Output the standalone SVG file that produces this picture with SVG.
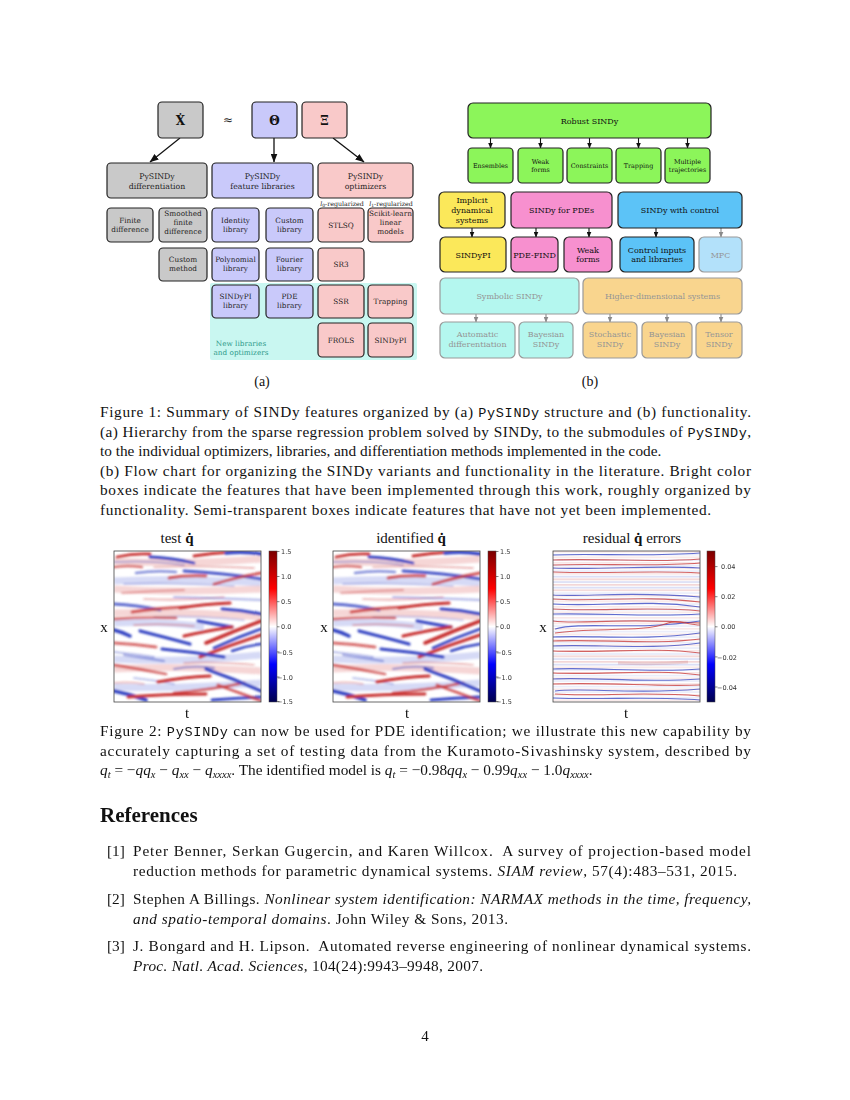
<svg xmlns="http://www.w3.org/2000/svg" width="850" height="1100" viewBox="0 0 850 1100">
<style>
.bx{stroke:#222;stroke-width:1.2}
.bs{stroke:#999;stroke-width:1.2}
.gy{fill:#c9c9c9}.lv{fill:#c9c9fa}.pk{fill:#f9c9c9}
.gr{fill:#8cf55a}.ye{fill:#fbe85a}.mg{fill:#f790cf}.bl{fill:#5cc3f7}
.lb{fill:#b3e1fa}.cy{fill:#b4f7ef}.or{fill:#f9d58e}
.ta{font-family:"DejaVu Serif",serif;font-size:7.3px;fill:#1e1e1e;text-anchor:middle}
.th{font-family:"DejaVu Serif",serif;font-size:7.8px;fill:#1e1e1e;text-anchor:middle}
.tb{font-family:"DejaVu Serif",serif;font-size:8px;fill:#111;text-anchor:middle}
.ts{font-family:"DejaVu Serif",serif;font-size:6.4px;fill:#111;text-anchor:middle}
.tg{font-family:"DejaVu Serif",serif;font-size:8px;fill:#959595;text-anchor:middle}
.big{font-family:"DejaVu Serif",serif;font-size:12px;font-weight:bold;fill:#111;text-anchor:middle}
.body{font-family:"Liberation Serif",serif;font-size:15.3px;fill:#111}
.mono{font-family:"Liberation Mono",monospace;font-size:13.5px}
.it{font-style:italic}
.sub{font-size:10.5px}
.tick{font-family:"DejaVu Sans",sans-serif;font-size:6.5px;fill:#333}
.ax{font-family:"Liberation Serif",serif;font-size:15px;fill:#111;text-anchor:middle}
.ar{stroke:#111;stroke-width:1.3;fill:none}
.as{stroke:#111;stroke-width:1.1;fill:none}
.ag{stroke:#8a8a8a;stroke-width:1.1;fill:none}
.r{stroke:#c83030;fill:none;stroke-linecap:round}
.b{stroke:#3343c2;fill:none;stroke-linecap:round}
.rf{stroke:#eeb4b4;fill:none;stroke-width:7;opacity:.55}
.bf{stroke:#b4bcee;fill:none;stroke-width:7;opacity:.55}
.r3{stroke:#c43030;fill:none;stroke-width:1.1;opacity:.75}
.b3{stroke:#3040c0;fill:none;stroke-width:1.1;opacity:.75}
.frame{fill:none;stroke:#444;stroke-width:0.8}
</style>
<defs>
<marker id="ah" markerWidth="9" markerHeight="7" refX="8.5" refY="3.5" orient="auto" markerUnits="userSpaceOnUse"><path d="M0,0 L9,3.5 L0,7 z" fill="#111"/></marker>
<marker id="ahs" markerWidth="6" markerHeight="5" refX="5.5" refY="2.5" orient="auto" markerUnits="userSpaceOnUse"><path d="M0,0 L6,2.5 L0,5 z" fill="#111"/></marker>
<marker id="ahg" markerWidth="6" markerHeight="5" refX="5.5" refY="2.5" orient="auto" markerUnits="userSpaceOnUse"><path d="M0,0 L6,2.5 L0,5 z" fill="#8a8a8a"/></marker>
<linearGradient id="seis" x1="0" y1="0" x2="0" y2="1">
<stop offset="0" stop-color="#7a0000"/><stop offset="0.25" stop-color="#ff0000"/><stop offset="0.5" stop-color="#ffffff"/><stop offset="0.75" stop-color="#0000ff"/><stop offset="1" stop-color="#00004d"/>
</linearGradient>
<clipPath id="clip1"><rect x="0" y="0" width="147" height="151"/></clipPath>
<filter id="soft" x="-5%" y="-5%" width="110%" height="110%"><feGaussianBlur stdDeviation="1.2"/></filter>
<filter id="soft2" x="-5%" y="-5%" width="110%" height="110%"><feGaussianBlur stdDeviation="0.45"/></filter>
<pattern id="stripes" patternUnits="userSpaceOnUse" width="10" height="5.5">
<rect x="0" y="0" width="10" height="1.6" fill="#e9b8b8" opacity="0.6"/>
<rect x="0" y="2.8" width="10" height="1.6" fill="#bcc3ec" opacity="0.6"/>
</pattern>
<g id="ks">
<g clip-path="url(#clip1)">
<rect x="0" y="0" width="147" height="151" fill="#fff"/>
<g filter="url(#soft)">
<path class="rf" d="M0,10 Q70,14 147,8"/>
<path class="bf" d="M0,30 Q70,26 147,32"/>
<path class="rf" d="M0,38 Q60,42 147,38" opacity=".3"/>
<path class="rf" d="M0,62 Q70,60 147,66"/>
<path class="bf" d="M0,72 Q50,70 90,76"/>
<path class="bf" d="M0,108 Q70,112 147,104"/>
<path class="rf" d="M0,118 Q60,114 147,120"/>
<path class="bf" d="M0,136 Q70,138 147,132"/>
<path class="b" stroke-width="1.6" opacity=".45" d="M0,11 Q40,9 70,14"/>
<path class="r" stroke-width="1.6" opacity=".45" d="M40,16 Q90,14 140,17"/>
<path class="b" stroke-width="1.6" opacity=".4" d="M10,33 Q60,31 120,35"/>
<path class="r" stroke-width="1.6" opacity=".4" d="M30,48 Q70,50 110,46"/>
<path class="b" stroke-width="1.6" opacity=".4" d="M40,66 Q80,64 130,69"/>
<path class="r" stroke-width="1.6" opacity=".45" d="M20,74 Q50,72 80,75"/>
<path class="b" stroke-width="1.6" opacity=".45" d="M0,101 Q20,103 40,106"/>
<path class="r" stroke-width="1.6" opacity=".4" d="M70,112 Q100,110 140,114"/>
<path class="b" stroke-width="1.6" opacity=".4" d="M20,127 Q40,129 60,133"/>
<path class="r" stroke-width="1.6" opacity=".4" d="M0,132 Q15,131 30,133"/>
<path class="r" stroke-width="2.8" d="M3,6 Q20,2 36,3"/>
<path class="b" stroke-width="2.8" d="M36,6 Q58,7 80,12"/>
<path class="r" stroke-width="2.8" d="M80,5 Q98,2 118,1"/>
<path class="b" stroke-width="3.5" d="M112,2 Q130,0 147,3"/>
<path class="r" stroke-width="2.4" opacity=".7" d="M0,16 Q14,14 28,16"/>
<path class="b" stroke-width="2.4" opacity=".6" d="M22,22 Q42,19 62,21"/>
<path class="r" stroke-width="2.8" opacity=".8" d="M55,27 Q72,24 92,25"/>
<path class="b" stroke-width="2.8" opacity=".9" d="M70,20 Q110,22 147,28"/>
<path class="r" stroke-width="2.8" opacity=".8" d="M100,33 Q125,26 147,22"/>
<path class="r" stroke-width="2" opacity=".4" d="M8,42 Q38,40 70,39"/>
<path class="b" stroke-width="2" opacity=".4" d="M60,46 Q100,47 147,49"/>
<path class="b" stroke-width="2.8" opacity=".8" d="M0,53 Q22,54 46,59"/>
<path class="r" stroke-width="2.8" opacity=".8" d="M18,61 Q44,57 72,56"/>
<path class="r" stroke-width="3.2" d="M66,57 Q90,53 116,52"/>
<path class="b" stroke-width="3.2" d="M108,58 Q128,59 147,63"/>
<path class="r" stroke-width="2.8" opacity=".7" d="M0,68 Q30,66 62,67"/>
<path class="b" stroke-width="3.6" d="M0,79 Q8,81 16,85"/>
<path class="b" stroke-width="3.2" d="M26,80 Q50,86 76,93"/>
<path class="b" stroke-width="3.2" d="M84,70 Q100,73 118,76"/>
<path class="r" stroke-width="3.2" d="M70,85 Q92,80 118,76"/>
<path class="r" stroke-width="3.6" d="M92,92 Q120,80 147,70"/>
<path class="b" stroke-width="2.8" d="M100,97 Q124,86 147,78"/>
<path class="r" stroke-width="3.2" d="M86,106 Q116,94 147,84"/>
<path class="b" stroke-width="3.2" d="M48,98 Q80,101 110,106"/>
<path class="r" stroke-width="2.8" opacity=".7" d="M0,92 Q20,93 42,96"/>
<path class="b" stroke-width="2.4" d="M118,100 Q132,95 147,93"/>
<path class="r" stroke-width="2.8" opacity=".7" d="M0,114 Q26,118 52,123"/>
<path class="b" stroke-width="2" opacity=".5" d="M10,104 Q30,107 50,110"/>
<path class="r" stroke-width="3.2" d="M44,131 Q70,126 96,125"/>
<path class="r" stroke-width="2.8" opacity=".8" d="M60,142 Q100,138 130,132"/>
<path class="b" stroke-width="3.2" d="M92,118 Q120,128 147,140"/>
<path class="b" stroke-width="3.6" d="M0,140 Q16,143 32,149"/>
<path class="r" stroke-width="2.8" d="M14,146 Q50,143 92,143"/>
<path class="b" stroke-width="2.8" d="M98,149 Q122,147 147,146"/>
<path class="r" stroke-width="2.8" opacity=".8" d="M104,134 Q126,142 147,150"/>
<path class="b" stroke-width="2" opacity=".5" d="M60,118 Q80,114 100,117"/>
</g>
</g>
<rect class="frame" x="0" y="0" width="147" height="151"/>
</g>
</defs>

<rect x="0" y="0" width="850" height="1100" fill="#fff"/>

<!-- ===== Figure 1 (a) ===== -->
<rect x="210" y="283" width="207" height="77" fill="#c9f7f1" rx="2"/>
<text x="241" y="346" font-family="DejaVu Serif,serif" font-size="7.3" fill="#2f9a8a" text-anchor="middle">New libraries</text>
<text x="241" y="355" font-family="DejaVu Serif,serif" font-size="7.3" fill="#2f9a8a" text-anchor="middle">and optimizers</text>

<g id="connectors-a">
<line class="ar" x1="180" y1="138" x2="150" y2="162" marker-end="url(#ah)"/>
<line class="ar" x1="274" y1="138" x2="274" y2="162" marker-end="url(#ah)"/>
<line class="ar" x1="333" y1="138" x2="364" y2="162" marker-end="url(#ah)"/>
</g>

<g id="n-xdot"><rect class="bx gy" x="158" y="102" width="45" height="36" rx="4"/><text class="big" x="180.5" y="125">Ẋ</text></g>
<text x="228" y="124" font-family="DejaVu Serif,serif" font-size="12" fill="#222" text-anchor="middle">≈</text>
<g id="n-theta"><rect class="bx lv" x="252" y="102" width="45" height="36" rx="4"/><text class="big" x="274.5" y="125">Θ</text></g>
<g id="n-xi"><rect class="bx pk" x="302" y="102" width="45" height="36" rx="4"/><text class="big" x="324.5" y="125">Ξ</text></g>

<g id="n-diff"><rect class="bx gy" x="107" y="163" width="100" height="35" rx="4"/><text class="th" x="157" y="178.5">PySINDy</text><text class="th" x="157" y="188.5">differentiation</text></g>
<g id="n-feat"><rect class="bx lv" x="212" y="163" width="101" height="35" rx="4"/><text class="th" x="262.5" y="178.5">PySINDy</text><text class="th" x="262.5" y="188.5">feature libraries</text></g>
<g id="n-opt"><rect class="bx pk" x="318" y="163" width="95" height="35" rx="4"/><text class="th" x="365.5" y="178.5">PySINDy</text><text class="th" x="365.5" y="188.5">optimizers</text></g>
<text x="342" y="205.5" font-family="DejaVu Serif,serif" font-size="6.3" fill="#222" text-anchor="middle"><tspan font-style="italic">l</tspan><tspan font-size="4.5" dy="1.5">0</tspan><tspan dy="-1.5">-regularized</tspan></text>
<text x="391" y="205.5" font-family="DejaVu Serif,serif" font-size="6.3" fill="#222" text-anchor="middle"><tspan font-style="italic">l</tspan><tspan font-size="4.5" dy="1.5">1</tspan><tspan dy="-1.5">-regularized</tspan></text>

<g id="n-finite"><rect class="bx gy" x="107" y="208" width="46" height="34" rx="4"/><text class="ta" x="130" y="223">Finite</text><text class="ta" x="130" y="232">difference</text></g>
<g id="n-smooth"><rect class="bx gy" x="159" y="208" width="48" height="34" rx="4"/><text class="ta" x="183" y="216">Smoothed</text><text class="ta" x="183" y="225">finite</text><text class="ta" x="183" y="234">difference</text></g>
<g id="n-identity"><rect class="bx lv" x="212" y="208" width="47" height="34" rx="4"/><text class="ta" x="235.5" y="223">Identity</text><text class="ta" x="235.5" y="232">library</text></g>
<g id="n-customlib"><rect class="bx lv" x="266" y="208" width="47" height="34" rx="4"/><text class="ta" x="289.5" y="223">Custom</text><text class="ta" x="289.5" y="232">library</text></g>
<g id="n-stlsq"><rect class="bx pk" x="318" y="208" width="46" height="34" rx="4"/><text class="ta" x="341" y="227.5">STLSQ</text></g>
<g id="n-scikit"><rect class="bx pk" x="368" y="208" width="45" height="34" rx="4"/><text class="ta" x="390.5" y="216">Scikit-learn</text><text class="ta" x="390.5" y="225">linear</text><text class="ta" x="390.5" y="234">models</text></g>

<g id="n-custommethod"><rect class="bx gy" x="159" y="248" width="48" height="33" rx="4"/><text class="ta" x="183" y="261.5">Custom</text><text class="ta" x="183" y="270.5">method</text></g>
<g id="n-poly"><rect class="bx lv" x="212" y="248" width="47" height="33" rx="4"/><text class="ta" x="235.5" y="261.5">Polynomial</text><text class="ta" x="235.5" y="270.5">library</text></g>
<g id="n-fourier"><rect class="bx lv" x="266" y="248" width="47" height="33" rx="4"/><text class="ta" x="289.5" y="261.5">Fourier</text><text class="ta" x="289.5" y="270.5">library</text></g>
<g id="n-sr3"><rect class="bx pk" x="318" y="248" width="46" height="33" rx="4"/><text class="ta" x="341" y="267">SR3</text></g>

<g id="n-sindypilib"><rect class="bx lv" x="212" y="285" width="47" height="33" rx="4"/><text class="ta" x="235.5" y="299">SINDyPI</text><text class="ta" x="235.5" y="308">library</text></g>
<g id="n-pdelib"><rect class="bx lv" x="266" y="285" width="47" height="33" rx="4"/><text class="ta" x="289.5" y="299">PDE</text><text class="ta" x="289.5" y="308">library</text></g>
<g id="n-ssr"><rect class="bx pk" x="318" y="285" width="46" height="33" rx="4"/><text class="ta" x="341" y="304">SSR</text></g>
<g id="n-trapping-a"><rect class="bx pk" x="368" y="285" width="45" height="33" rx="4"/><text class="ta" x="390.5" y="304">Trapping</text></g>
<g id="n-frols"><rect class="bx pk" x="318" y="323" width="46" height="34" rx="4"/><text class="ta" x="341" y="342.5">FROLS</text></g>
<g id="n-sindypi-a"><rect class="bx pk" x="368" y="323" width="45" height="34" rx="4"/><text class="ta" x="390.5" y="342.5">SINDyPI</text></g>

<text x="262" y="386" font-family="Liberation Serif,serif" font-size="14" fill="#111" text-anchor="middle">(a)</text>

<!-- ===== Figure 1 (b) ===== -->
<g id="connectors-b">
<line class="as" x1="490.5" y1="138" x2="490.5" y2="148" marker-end="url(#ahs)"/>
<line class="as" x1="540.5" y1="138" x2="540.5" y2="148" marker-end="url(#ahs)"/>
<line class="as" x1="589.5" y1="138" x2="589.5" y2="148" marker-end="url(#ahs)"/>
<line class="as" x1="638.5" y1="138" x2="638.5" y2="148" marker-end="url(#ahs)"/>
<line class="as" x1="687.5" y1="138" x2="687.5" y2="148" marker-end="url(#ahs)"/>
<line class="as" x1="472" y1="228" x2="472" y2="237" marker-end="url(#ahs)"/>
<line class="as" x1="536" y1="228" x2="536" y2="237" marker-end="url(#ahs)"/>
<line class="as" x1="589" y1="228" x2="589" y2="237" marker-end="url(#ahs)"/>
<line class="as" x1="656" y1="228" x2="656" y2="237" marker-end="url(#ahs)"/>
<line class="ag" x1="721" y1="228" x2="721" y2="237" marker-end="url(#ahg)"/>
<line class="ag" x1="476" y1="314" x2="476" y2="322" marker-end="url(#ahg)"/>
<line class="ag" x1="546" y1="314" x2="546" y2="322" marker-end="url(#ahg)"/>
<line class="ag" x1="610" y1="314" x2="610" y2="322" marker-end="url(#ahg)"/>
<line class="ag" x1="667" y1="314" x2="667" y2="322" marker-end="url(#ahg)"/>
<line class="ag" x1="721" y1="314" x2="721" y2="322" marker-end="url(#ahg)"/>
</g>

<g id="n-robust"><rect class="bx gr" x="468" y="103" width="243" height="35" rx="5"/><text class="tb" x="589.5" y="123.5">Robust SINDy</text></g>
<g id="n-ensembles"><rect class="bx gr" x="468" y="148" width="45" height="35" rx="4"/><text class="ts" x="490.5" y="168">Ensembles</text></g>
<g id="n-weak1"><rect class="bx gr" x="518" y="148" width="45" height="35" rx="4"/><text class="ts" x="540.5" y="163.5">Weak</text><text class="ts" x="540.5" y="171.5">forms</text></g>
<g id="n-constraints"><rect class="bx gr" x="567" y="148" width="45" height="35" rx="4"/><text class="ts" x="589.5" y="168">Constraints</text></g>
<g id="n-trapping-b"><rect class="bx gr" x="616" y="148" width="45" height="35" rx="4"/><text class="ts" x="638.5" y="168">Trapping</text></g>
<g id="n-multiple"><rect class="bx gr" x="665" y="148" width="45" height="35" rx="4"/><text class="ts" x="687.5" y="163.5">Multiple</text><text class="ts" x="687.5" y="171.5">trajectories</text></g>

<g id="n-implicit"><rect class="bx ye" x="439" y="192" width="66" height="36" rx="5"/><text class="tb" x="472" y="203">Implicit</text><text class="tb" x="472" y="213">dynamical</text><text class="tb" x="472" y="223">systems</text></g>
<g id="n-pdes"><rect class="bx mg" x="511" y="192" width="101" height="36" rx="5"/><text class="tb" x="561.5" y="213">SINDy for PDEs</text></g>
<g id="n-control"><rect class="bx bl" x="618" y="192" width="124" height="36" rx="5"/><text class="tb" x="680" y="213">SINDy with control</text></g>

<g id="n-sindypi-b"><rect class="bx ye" x="440" y="237" width="66" height="35" rx="5"/><text class="tb" x="473" y="257.5">SINDyPI</text></g>
<g id="n-pdefind"><rect class="bx mg" x="511" y="237" width="47" height="35" rx="5"/><text class="tb" x="534.5" y="257.5">PDE-FIND</text></g>
<g id="n-weak2"><rect class="bx mg" x="564" y="237" width="48" height="35" rx="5"/><text class="tb" x="588" y="252.5">Weak</text><text class="tb" x="588" y="262">forms</text></g>
<g id="n-controlinputs"><rect class="bx bl" x="620" y="237" width="74" height="35" rx="5"/><text class="tb" x="657" y="252.5">Control inputs</text><text class="tb" x="657" y="262">and libraries</text></g>
<g id="n-mpc"><rect class="bs lb" x="699" y="237" width="43" height="35" rx="5"/><text class="tg" x="720.5" y="257.5">MPC</text></g>

<g id="n-symbolic"><rect class="bs cy" x="440" y="278" width="139" height="36" rx="5"/><text class="tg" x="509.5" y="299">Symbolic SINDy</text></g>
<g id="n-higher"><rect class="bs or" x="583" y="278" width="159" height="36" rx="5"/><text class="tg" x="662.5" y="299">Higher-dimensional systems</text></g>

<g id="n-autodiff"><rect class="bs cy" x="440" y="322" width="75" height="36" rx="5"/><text class="tg" x="477.5" y="336.5">Automatic</text><text class="tg" x="477.5" y="346.5">differentiation</text></g>
<g id="n-bayes1"><rect class="bs cy" x="519" y="322" width="54" height="36" rx="5"/><text class="tg" x="546" y="336.5">Bayesian</text><text class="tg" x="546" y="346.5">SINDy</text></g>
<g id="n-stochastic"><rect class="bs or" x="583" y="322" width="54" height="36" rx="5"/><text class="tg" x="610" y="336.5">Stochastic</text><text class="tg" x="610" y="346.5">SINDy</text></g>
<g id="n-bayes2"><rect class="bs or" x="642" y="322" width="50" height="36" rx="5"/><text class="tg" x="667" y="336.5">Bayesian</text><text class="tg" x="667" y="346.5">SINDy</text></g>
<g id="n-tensor"><rect class="bs or" x="696" y="322" width="46" height="36" rx="5"/><text class="tg" x="719" y="336.5">Tensor</text><text class="tg" x="719" y="346.5">SINDy</text></g>

<text x="590" y="386" font-family="Liberation Serif,serif" font-size="14" fill="#111" text-anchor="middle">(b)</text>

<!-- ===== Figure 1 caption ===== -->
<g class="body">
<text x="100" y="417" textLength="651" lengthAdjust="spacing">Figure 1: Summary of SINDy features organized by (a) <tspan class="mono">PySINDy</tspan> structure and (b) functionality.</text>
<text x="100" y="436.5" textLength="651" lengthAdjust="spacing">(a) Hierarchy from the sparse regression problem solved by SINDy, to the submodules of <tspan class="mono">PySINDy</tspan>,</text>
<text x="100" y="456">to the individual optimizers, libraries, and differentiation methods implemented in the code.</text>
<text x="100" y="475.5" textLength="651" lengthAdjust="spacing">(b) Flow chart for organizing the SINDy variants and functionality in the literature. Bright color</text>
<text x="100" y="495" textLength="651" lengthAdjust="spacing">boxes indicate the features that have been implemented through this work, roughly organized by</text>
<text x="100" y="514.5" textLength="611" lengthAdjust="spacing">functionality. Semi-transparent boxes indicate features that have not yet been implemented.</text>
</g>

<!-- ===== Figure 2 ===== -->
<g id="fig2">
<text class="ax" x="177" y="543">test <tspan font-weight="bold">q̇</tspan></text>
<text class="ax" x="411" y="543">identified <tspan font-weight="bold">q̇</tspan></text>
<text class="ax" x="632" y="543">residual <tspan font-weight="bold">q̇</tspan> errors</text>

<use href="#ks" transform="translate(114,551)"/>
<use href="#ks" transform="translate(333,551)"/>

<g transform="translate(553,551)">
<g clip-path="url(#clip1)">
<rect x="0" y="0" width="147" height="151" fill="#fff"/>
<rect x="0" y="0" width="147" height="151" fill="url(#stripes)" opacity="0.55"/>
<rect x="0" y="24" width="147" height="16" fill="url(#stripes)" opacity="0.6"/>
<rect x="0" y="103" width="147" height="12" fill="url(#stripes)" opacity="0.6"/>
<g filter="url(#soft2)">
<path d="M65,112 Q100,114 135,111" stroke="#c05060" stroke-width="3" fill="none" opacity=".22"/>
<path class="b3" d="M0,4 C40,2 90,6 147,2"/>
<path class="r3" d="M0,9 C50,7 100,12 147,8"/>
<path class="r3" d="M0,14 C40,12 100,16 147,12"/>
<path class="b3" d="M0,17 C50,19 100,14 147,17"/>
<path class="r3" d="M0,21 C60,23 100,19 147,22"/>
<path class="b3" d="M0,44 C30,46 80,40 147,46"/>
<path class="r3" d="M0,48 C40,51 90,44 147,51"/>
<path class="b3" d="M0,53 C50,56 90,48 147,56"/>
<path class="r3" d="M0,58 C40,61 100,55 147,60"/>
<path class="b3" d="M0,63 C50,62 100,66 147,63"/>
<path class="r3" d="M0,70 C30,74 60,66 147,72"/>
<path class="b3" d="M2,78 C30,70 80,80 147,70"/>
<path class="r3" d="M2,82 C40,76 90,82 115,72 C125,68 135,74 147,74"/>
<path class="b3" d="M0,86 C40,84 90,90 147,82"/>
<path class="r3" d="M0,90 C50,88 100,94 147,88"/>
<path class="b3" d="M0,95 C40,93 100,99 147,92"/>
<path class="r3" d="M0,100 C50,102 100,96 147,102"/>
<path class="b3" d="M0,118 C40,116 100,122 147,118"/>
<path class="r3" d="M0,122 C50,124 100,118 147,124"/>
<path class="b3" d="M0,128 C40,126 90,132 147,128"/>
<path class="r3" d="M0,133 C60,131 100,136 147,134"/>
<path class="b3" d="M2,140 C30,136 80,144 147,138"/>
<path class="r3" d="M2,143 C40,146 90,140 147,145"/>
<path class="b3" d="M0,147 C50,149 100,145 147,149"/>
</g>
</g>
<rect class="frame" x="0" y="0" width="147" height="151"/>
</g>

<!-- colorbars -->
<rect x="269" y="551" width="8" height="151" fill="url(#seis)" stroke="#444" stroke-width="0.5"/>
<rect x="488" y="551" width="8" height="151" fill="url(#seis)" stroke="#444" stroke-width="0.5"/>
<rect x="707" y="551" width="8" height="151" fill="url(#seis)" stroke="#444" stroke-width="0.5"/>
<g stroke="#333" stroke-width="0.6">
<path d="M277,551.5h2.5M277,576.5h2.5M277,601.7h2.5M277,626.8h2.5M277,651.9h2.5M277,677h2.5M277,701.5h2.5"/>
<path d="M496,551.5h2.5M496,576.5h2.5M496,601.7h2.5M496,626.8h2.5M496,651.9h2.5M496,677h2.5M496,701.5h2.5"/>
<path d="M715,566.6h2.5M715,596.7h2.5M715,626.8h2.5M715,656.9h2.5M715,687h2.5"/>
</g>
<g class="tick">
<text x="281" y="554">1.5</text><text x="281" y="579">1.0</text><text x="281" y="604">0.5</text><text x="281" y="629">0.0</text><text x="277" y="654.5">−0.5</text><text x="277" y="679.5">−1.0</text><text x="277" y="704">−1.5</text>
<text x="500" y="554">1.5</text><text x="500" y="579">1.0</text><text x="500" y="604">0.5</text><text x="500" y="629">0.0</text><text x="496" y="654.5">−0.5</text><text x="496" y="679.5">−1.0</text><text x="496" y="704">−1.5</text>
<text x="721" y="569">0.04</text><text x="721" y="599">0.02</text><text x="721" y="629">0.00</text><text x="717" y="659.5">−0.02</text><text x="717" y="689.5">−0.04</text>
</g>
<text class="ax" x="104" y="632">x</text><text class="ax" x="324" y="632">x</text><text class="ax" x="543" y="632">x</text>
<text class="ax" x="187" y="718">t</text><text class="ax" x="407" y="718">t</text><text class="ax" x="626" y="718">t</text>
</g>

<!-- ===== Figure 2 caption ===== -->
<g class="body">
<text x="100" y="736" textLength="651" lengthAdjust="spacing">Figure 2: <tspan class="mono">PySINDy</tspan> can now be used for PDE identification; we illustrate this new capability by</text>
<text x="100" y="755.5" textLength="651" lengthAdjust="spacing">accurately capturing a set of testing data from the Kuramoto-Sivashinsky system, described by</text>
<text x="100" y="775"><tspan class="it">q</tspan><tspan class="sub it" dy="3">t</tspan><tspan dy="-3"> = −</tspan><tspan class="it">qq</tspan><tspan class="sub it" dy="3">x</tspan><tspan dy="-3"> − </tspan><tspan class="it">q</tspan><tspan class="sub it" dy="3">xx</tspan><tspan dy="-3"> − </tspan><tspan class="it">q</tspan><tspan class="sub it" dy="3">xxxx</tspan><tspan dy="-3">. The identified model is </tspan><tspan class="it">q</tspan><tspan class="sub it" dy="3">t</tspan><tspan dy="-3"> = −0.98</tspan><tspan class="it">qq</tspan><tspan class="sub it" dy="3">x</tspan><tspan dy="-3"> − 0.99</tspan><tspan class="it">q</tspan><tspan class="sub it" dy="3">xx</tspan><tspan dy="-3"> − 1.0</tspan><tspan class="it">q</tspan><tspan class="sub it" dy="3">xxxx</tspan><tspan dy="-3">.</tspan></text>
</g>

<!-- ===== References ===== -->
<text x="100" y="822" font-family="Liberation Serif,serif" font-size="21" font-weight="bold" fill="#111">References</text>
<g class="body">
<text x="107" y="856">[1]</text>
<text x="133" y="856" textLength="618" lengthAdjust="spacing">Peter Benner, Serkan Gugercin, and Karen Willcox.&#160; A survey of projection-based model</text>
<text x="133" y="875.5" textLength="604" lengthAdjust="spacing">reduction methods for parametric dynamical systems. <tspan class="it">SIAM review</tspan>, 57(4):483–531, 2015.</text>
<text x="107" y="904">[2]</text>
<text x="133" y="904" textLength="618" lengthAdjust="spacing">Stephen A Billings. <tspan class="it">Nonlinear system identification: NARMAX methods in the time, frequency,</tspan></text>
<text x="133" y="923.5" textLength="375" lengthAdjust="spacing"><tspan class="it">and spatio-temporal domains</tspan>. John Wiley &amp; Sons, 2013.</text>
<text x="107" y="951">[3]</text>
<text x="133" y="951" textLength="618" lengthAdjust="spacing">J. Bongard and H. Lipson.&#160; Automated reverse engineering of nonlinear dynamical systems.</text>
<text x="133" y="970.5" textLength="350" lengthAdjust="spacing"><tspan class="it">Proc. Natl. Acad. Sciences</tspan>, 104(24):9943–9948, 2007.</text>
</g>
<text x="425" y="1041" font-family="Liberation Serif,serif" font-size="15" fill="#111" text-anchor="middle">4</text>
</svg>
